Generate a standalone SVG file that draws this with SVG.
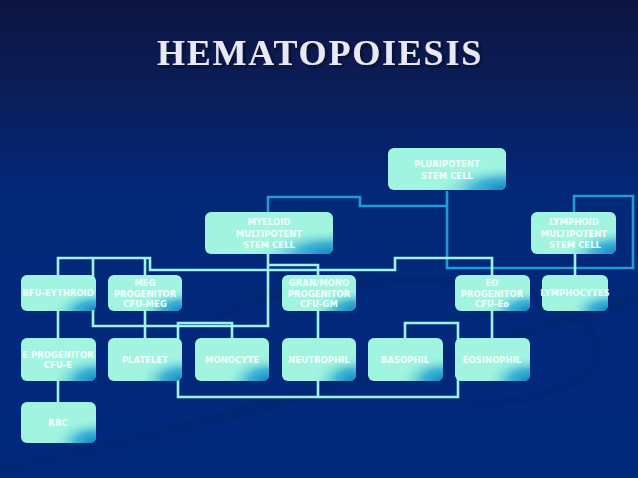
<svg xmlns="http://www.w3.org/2000/svg" width="638" height="478" viewBox="0 0 638 478">
<defs>
<linearGradient id="bg" x1="0" y1="0" x2="0" y2="1">
<stop offset="0" stop-color="#0c1540"/>
<stop offset="0.18" stop-color="#0b1d58"/>
<stop offset="0.4" stop-color="#032878"/>
<stop offset="1" stop-color="#00297d"/>
</linearGradient>
<radialGradient id="sh" cx="1" cy="1" r="0.6" fx="1" fy="1">
<stop offset="0" stop-color="#0a82c2" stop-opacity="1"/>
<stop offset="0.45" stop-color="#2aa6d4" stop-opacity="0.8"/>
<stop offset="1" stop-color="#a3f5e1" stop-opacity="0"/>
</radialGradient>
<filter id="ds" x="-5%" y="-20%" width="110%" height="150%">
<feDropShadow dx="2" dy="2" stdDeviation="0.8" flood-color="#0a1024" flood-opacity="0.9"/>
</filter>
<style>
.box{fill:#a1f4e0}
.shade{fill:url(#sh)}
.t{font-family:"DejaVu Sans",Verdana,sans-serif;font-weight:bold;font-size:8.5px;fill:#f2fffb;text-anchor:middle}
.c1{fill:none;stroke:#9ef3ec;stroke-width:2.6}
.c2{fill:none;stroke:#2399d6;stroke-width:2.6}
.title{font-family:"Liberation Serif","Times New Roman",serif;font-weight:bold;font-size:36px;letter-spacing:1.8px;text-anchor:middle;fill:#e8e8f6}
</style>
</defs>
<rect width="638" height="478" fill="url(#bg)"/>
<path d="M0,470 C200,430 420,360 638,300" fill="none" stroke="#06256e" stroke-width="12" opacity="0.4"/>
<path d="M200,330 C240,280 520,250 590,330 C620,370 560,400 470,405" fill="none" stroke="#06236a" stroke-width="8" opacity="0.3"/>
<text class="title" x="320" y="65" filter="url(#ds)">HEMATOPOIESIS</text>
<g id="connectors">
<path class="c2" d="M447,191 V206 H360 V197 H268 V212"/>
<path class="c2" d="M447,206 V268 H633 V196 H574 V212"/>
<path class="c1" d="M268,254 V326 H93 V258"/>
<path class="c1" d="M58,275 V258 H150 V270 H395 V258 H492 V275"/>
<path class="c1" d="M145,258 V275"/>
<path class="c1" d="M268,265 H318 V275"/>
<path class="c1" d="M58,311 V338"/>
<path class="c1" d="M58,381 V402"/>
<path class="c1" d="M145,311 V338"/>
<path class="c1" d="M318,311 V338"/>
<path class="c1" d="M318,381 V397"/>
<path class="c1" d="M232,338 V323 H178 V397 H458 V323 H405 V338"/>
<path class="c1" d="M492,311 V338"/>
<path class="c1" d="M575,254 V275"/>
</g>
<g id="pluripotent"><rect class="box" x="388" y="148" width="118" height="42" rx="6"/><rect class="shade" x="388" y="148" width="118" height="42" rx="6"/><text class="t" x="447" y="167">PLURIPOTENT</text><text class="t" x="447" y="179">STEM CELL</text></g>
<g id="myeloid"><rect class="box" x="205" y="212" width="128" height="42" rx="6"/><rect class="shade" x="205" y="212" width="128" height="42" rx="6"/><text class="t" x="269" y="225">MYELOID</text><text class="t" x="269" y="237">MULTIPOTENT</text><text class="t" x="269" y="248">STEM CELL</text></g>
<g id="lymphoid"><rect class="box" x="531" y="212" width="85" height="42" rx="6"/><rect class="shade" x="531" y="212" width="85" height="42" rx="6"/><text class="t" x="574" y="225">LYMPHOID</text><text class="t" x="574" y="237">MULTIPOTENT</text><text class="t" x="575" y="248">STEM CELL</text></g>
<g id="bfu"><rect class="box" x="21" y="275" width="75" height="36" rx="6"/><rect class="shade" x="21" y="275" width="75" height="36" rx="6"/><text class="t" x="58" y="296">BFU-EYTHROID</text></g>
<g id="meg"><rect class="box" x="108" y="275" width="74" height="36" rx="6"/><rect class="shade" x="108" y="275" width="74" height="36" rx="6"/><text class="t" x="145" y="286">MEG</text><text class="t" x="145" y="297">PROGENITOR</text><text class="t" x="145" y="307">CFU-MEG</text></g>
<g id="granmono"><rect class="box" x="282" y="275" width="74" height="36" rx="6"/><rect class="shade" x="282" y="275" width="74" height="36" rx="6"/><text class="t" x="319" y="286">GRAN/MONO</text><text class="t" x="319" y="297">PROGENITOR</text><text class="t" x="319" y="307">CFU-GM</text></g>
<g id="eo"><rect class="box" x="455" y="275" width="75" height="36" rx="6"/><rect class="shade" x="455" y="275" width="75" height="36" rx="6"/><text class="t" x="492" y="286">EO</text><text class="t" x="492" y="297">PROGENITOR</text><text class="t" x="492" y="307">CFU-Eo</text></g>
<g id="lymphocytes"><rect class="box" x="542" y="275" width="66" height="36" rx="6"/><rect class="shade" x="542" y="275" width="66" height="36" rx="6"/><text class="t" x="575" y="296">LYMPHOCYTES</text></g>
<g id="eprog"><rect class="box" x="21" y="338" width="75" height="43" rx="6"/><rect class="shade" x="21" y="338" width="75" height="43" rx="6"/><text class="t" x="58" y="358">E PROGENITOR</text><text class="t" x="58" y="368">CFU-E</text></g>
<g id="platelet"><rect class="box" x="108" y="338" width="74" height="43" rx="6"/><rect class="shade" x="108" y="338" width="74" height="43" rx="6"/><text class="t" x="145" y="363">PLATELET</text></g>
<g id="monocyte"><rect class="box" x="195" y="338" width="74" height="43" rx="6"/><rect class="shade" x="195" y="338" width="74" height="43" rx="6"/><text class="t" x="232" y="363">MONOCYTE</text></g>
<g id="neutrophil"><rect class="box" x="282" y="338" width="74" height="43" rx="6"/><rect class="shade" x="282" y="338" width="74" height="43" rx="6"/><text class="t" x="319" y="363">NEUTROPHIL</text></g>
<g id="basophil"><rect class="box" x="368" y="338" width="75" height="43" rx="6"/><rect class="shade" x="368" y="338" width="75" height="43" rx="6"/><text class="t" x="405" y="363">BASOPHIL</text></g>
<g id="eosinophil"><rect class="box" x="455" y="338" width="75" height="43" rx="6"/><rect class="shade" x="455" y="338" width="75" height="43" rx="6"/><text class="t" x="492" y="363">EOSINOPHIL</text></g>
<g id="rbc"><rect class="box" x="21" y="402" width="75" height="41" rx="6"/><rect class="shade" x="21" y="402" width="75" height="41" rx="6"/><text class="t" x="58" y="426">RBC</text></g>
</svg>
